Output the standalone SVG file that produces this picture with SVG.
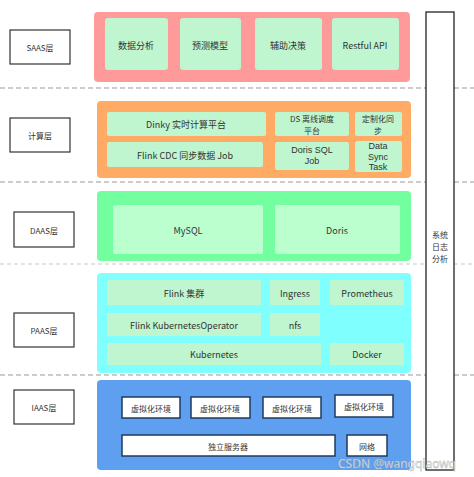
<svg xmlns="http://www.w3.org/2000/svg" width="474" height="477" viewBox="0 0 474 477">
<style>
text{font-family:"Noto Sans CJK SC","Noto Sans",sans-serif;font-size:9px;fill:#333;text-anchor:middle;dominant-baseline:central}
.lat{font-family:"Liberation Sans","Noto Sans CJK SC",sans-serif}
.lbl{fill:#fff;stroke:#333;stroke-width:1.2}
.g{fill:#bff5cf}
.w{fill:#fff;stroke:#1f3b5c;stroke-width:1.5}
.dash{stroke:#999;stroke-width:1.2;stroke-dasharray:5,3;fill:none}
.dash2{stroke:#bbb;stroke-width:0.8;stroke-dasharray:4,3;fill:none}
.s{font-size:8px}
</style>
<rect width="474" height="477" fill="#fff"/>
<g id="separators">
<path class="dash" d="M0 88H426M454 88H474"/>
<path class="dash" d="M0 182H426M454 182H474"/>
<path class="dash2" d="M0 264H426M454 264H474"/>
<path class="dash" d="M0 375H426M454 375H474"/>
</g>
<g id="saas">
<rect class="lbl" x="10" y="30" width="60" height="34"/>
<text x="40" y="47" class="s">SAAS层</text>
<rect x="94" y="12" width="316" height="70" rx="4" fill="#ff9a9a"/>
<rect class="g" x="105" y="18" width="63" height="52" rx="3"/>
<text x="136" y="45">数据分析</text>
<rect class="g" x="180" y="18" width="61" height="52" rx="3"/>
<text x="210" y="45">预测模型</text>
<rect class="g" x="255" y="18" width="67" height="52" rx="3"/>
<text x="288" y="45">辅助决策</text>
<rect class="g" x="332" y="18" width="67" height="52" rx="3"/>
<text x="365" y="45">Restful API</text>
</g>
<g id="compute">
<rect class="lbl" x="10" y="118" width="60" height="34"/>
<text x="40" y="135" class="s">计算层</text>
<rect x="97" y="101" width="314" height="77" rx="4" fill="#ffab66"/>
<rect class="g" x="107" y="112" width="159" height="24" rx="2"/>
<text x="186" y="124">Dinky 实时计算平台</text>
<rect class="g" x="107" y="142" width="156" height="25" rx="2"/>
<text x="185" y="155">Flink CDC 同步数据 Job</text>
<rect class="g" x="275" y="112" width="74" height="24" rx="2"/>
<text x="312" y="118" class="s">DS  离线调度</text>
<text x="312" y="130" class="s">平台</text>
<rect class="g" x="355" y="112" width="47" height="24" rx="2"/>
<text x="378" y="118" class="s">定制化同</text>
<text x="378" y="130" class="s">步</text>
<rect class="g" x="275" y="142" width="74" height="28" rx="2"/>
<text x="312" y="150" class="lat">Doris SQL</text>
<text x="312" y="161" class="lat">Job</text>
<rect class="g" x="355" y="141" width="47" height="31" rx="2"/>
<text x="378" y="146" class="lat">Data</text>
<text x="378" y="156.5" class="lat">Sync</text>
<text x="378" y="167" class="lat">Task</text>
</g>
<g id="daas">
<rect class="lbl" x="14" y="212" width="60" height="35"/>
<text x="44" y="230" class="s">DAAS层</text>
<rect x="97" y="191" width="314" height="70" rx="4" fill="#73ff9f"/>
<rect x="113" y="205" width="150" height="49" rx="2" fill="#bcffcf"/>
<text x="188" y="230">MySQL</text>
<rect x="275" y="205" width="125" height="49" rx="2" fill="#bcffcf"/>
<text x="337" y="230">Doris</text>
</g>
<g id="paas">
<rect class="lbl" x="14" y="313" width="60" height="34"/>
<text x="44" y="330" class="s">PAAS层</text>
<rect x="97" y="273" width="314" height="100" rx="4" fill="#80ffff"/>
<rect class="g" x="107" y="280" width="154" height="25"/>
<text x="184" y="293">Flink  集群</text>
<rect class="g" x="270" y="280" width="50" height="25"/>
<text x="295" y="293">Ingress</text>
<rect class="g" x="330" y="280" width="74" height="25"/>
<text x="367" y="293">Prometheus</text>
<rect class="g" x="107" y="313" width="154" height="23"/>
<text x="184" y="325">Flink KubernetesOperator</text>
<rect class="g" x="270" y="313" width="50" height="23"/>
<text x="295" y="325">nfs</text>
<rect class="g" x="107" y="343" width="214" height="22"/>
<text x="214" y="354">Kubernetes</text>
<rect class="g" x="330" y="343" width="74" height="22"/>
<text x="367" y="354">Docker</text>
</g>
<g id="iaas">
<rect class="lbl" x="14" y="390" width="60" height="34"/>
<text x="44" y="407" class="s">IAAS层</text>
<rect x="97" y="380" width="314" height="90" rx="4" fill="#5f9ff0"/>
<rect class="w" x="122" y="397" width="58" height="21"/>
<text x="151" y="408" class="s">虚拟化环境</text>
<rect class="w" x="191" y="397" width="59" height="21"/>
<text x="220" y="408" class="s">虚拟化环境</text>
<rect class="w" x="263" y="397" width="58" height="21"/>
<text x="292" y="408" class="s">虚拟化环境</text>
<rect class="w" x="335" y="395" width="58" height="22"/>
<text x="364" y="406" class="s">虚拟化环境</text>
<rect class="w" x="122" y="435" width="213" height="21"/>
<text x="228" y="446" class="s">独立服务器</text>
<rect class="w" x="347" y="435" width="40" height="21"/>
<text x="367" y="446" class="s">网络</text>
</g>
<g id="log">
<rect x="426" y="12" width="28" height="458" fill="#fff" stroke="#222" stroke-width="1.3"/>
<text x="440" y="234" class="s">系统</text>
<text x="440" y="246" class="s">日志</text>
<text x="440" y="258" class="s">分析</text>
</g>
<text x="397" y="463" style="font-family:'Noto Sans',sans-serif;font-size:12px;fill:#fff;stroke:#999;stroke-width:0.4;opacity:0.9">CSDN @wangqiaowq</text>
</svg>
